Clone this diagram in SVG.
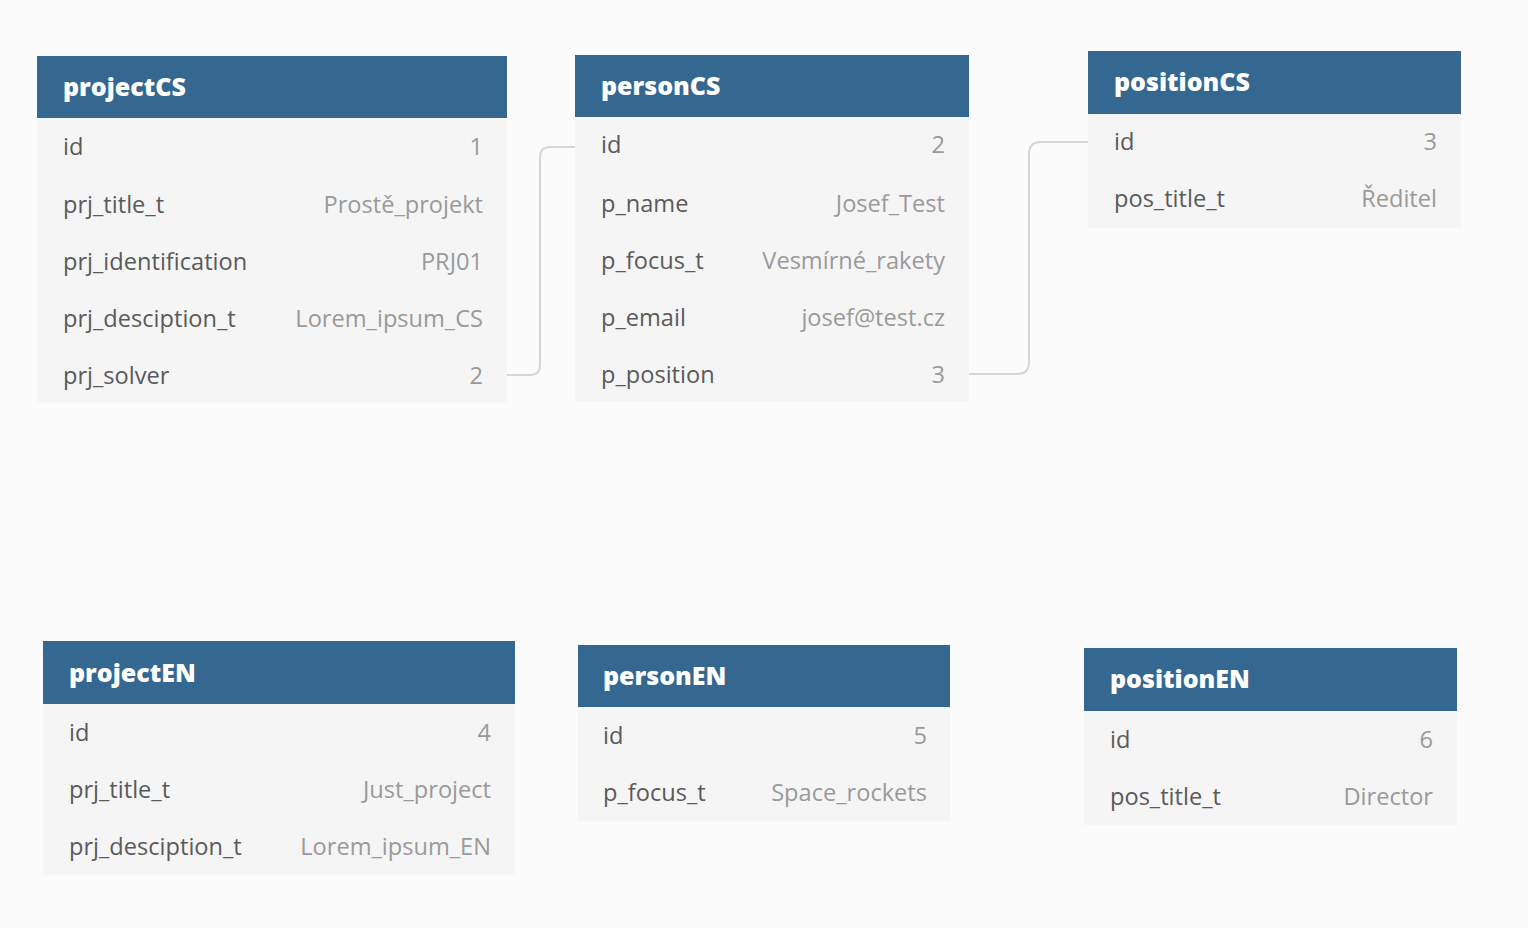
<svg xmlns="http://www.w3.org/2000/svg" width="1528" height="928" viewBox="0 0 1528 928">
<style>
.hd{fill:#346891}
.bd{fill:#f5f5f5}
.tt{font-family:"Open Sans","DejaVu Sans",sans-serif;font-weight:800;font-size:25px;fill:#ffffff}
.k{font-family:"Open Sans","DejaVu Sans",sans-serif;font-size:23.6px;fill:#5a5a5a}
.v{font-family:"Open Sans","DejaVu Sans",sans-serif;font-size:23.6px;fill:#9a9a9a;text-anchor:end}
.cn{fill:none;stroke:#d6d6d6;stroke-width:2}
</style>
<rect width="1528" height="928" fill="#fbfbfb"/>
<g id="connectors">
<path class="cn" d="M507 375 H530 Q540 375 540 365 V157 Q540 147 550 147 H575"/>
<path class="cn" d="M969 374 H1017 Q1029 374 1029 362 V154 Q1029 142 1041 142 H1088"/>
</g>
<g id="projectCS">
<rect class="bd" x="37" y="118" width="470" height="285"/>
<rect class="hd" x="37" y="56" width="470" height="62"/>
<text class="tt" x="63" y="96">projectCS</text>
<text class="k" x="63" y="155">id</text><text class="v" x="483" y="155">1</text>
<text class="k" x="63" y="213">prj_title_t</text><text class="v" x="483" y="213">Prostě_projekt</text>
<text class="k" x="63" y="270">prj_identification</text><text class="v" x="483" y="270">PRJ01</text>
<text class="k" x="63" y="327">prj_desciption_t</text><text class="v" x="483" y="327">Lorem_ipsum_CS</text>
<text class="k" x="63" y="384">prj_solver</text><text class="v" x="483" y="384">2</text>
</g>
<g id="personCS">
<rect class="bd" x="575" y="117" width="394" height="285"/>
<rect class="hd" x="575" y="55" width="394" height="62"/>
<text class="tt" x="601" y="95">personCS</text>
<text class="k" x="601" y="153">id</text><text class="v" x="945" y="153">2</text>
<text class="k" x="601" y="212">p_name</text><text class="v" x="945" y="212">Josef_Test</text>
<text class="k" x="601" y="269">p_focus_t</text><text class="v" x="945" y="269">Vesmírné_rakety</text>
<text class="k" x="601" y="326">p_email</text><text class="v" x="945" y="326">josef@test.cz</text>
<text class="k" x="601" y="383">p_position</text><text class="v" x="945" y="383">3</text>
</g>
<g id="positionCS">
<rect class="bd" x="1088" y="114" width="373" height="114"/>
<rect class="hd" x="1088" y="51" width="373" height="63"/>
<text class="tt" x="1114" y="91">positionCS</text>
<text class="k" x="1114" y="150">id</text><text class="v" x="1437" y="150">3</text>
<text class="k" x="1114" y="207">pos_title_t</text><text class="v" x="1437" y="207">Ředitel</text>
</g>
<g id="projectEN">
<rect class="bd" x="43" y="704" width="472" height="171"/>
<rect class="hd" x="43" y="641" width="472" height="63"/>
<text class="tt" x="69" y="682">projectEN</text>
<text class="k" x="69" y="741">id</text><text class="v" x="491" y="741">4</text>
<text class="k" x="69" y="798">prj_title_t</text><text class="v" x="491" y="798">Just_project</text>
<text class="k" x="69" y="855">prj_desciption_t</text><text class="v" x="491" y="855">Lorem_ipsum_EN</text>
</g>
<g id="personEN">
<rect class="bd" x="578" y="707" width="372" height="114"/>
<rect class="hd" x="578" y="645" width="372" height="62"/>
<text class="tt" x="603" y="685">personEN</text>
<text class="k" x="603" y="744">id</text><text class="v" x="927" y="744">5</text>
<text class="k" x="603" y="801">p_focus_t</text><text class="v" x="927" y="801">Space_rockets</text>
</g>
<g id="positionEN">
<rect class="bd" x="1084" y="711" width="373" height="114"/>
<rect class="hd" x="1084" y="648" width="373" height="63"/>
<text class="tt" x="1110" y="688">positionEN</text>
<text class="k" x="1110" y="748">id</text><text class="v" x="1433" y="748">6</text>
<text class="k" x="1110" y="805">pos_title_t</text><text class="v" x="1433" y="805">Director</text>
</g>
</svg>
